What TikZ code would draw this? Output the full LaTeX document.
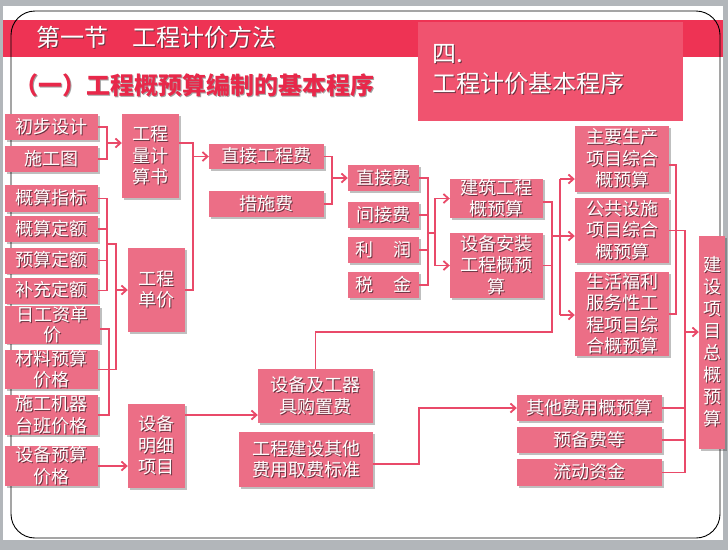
\documentclass[tikz,border=0pt]{standalone}
\usepackage{fontspec}
\setmainfont{Noto Sans CJK SC}
\usetikzlibrary{shadows,arrows.meta}
\definecolor{bgray}{HTML}{B2B6BA}
\definecolor{band}{HTML}{EE3354}
\definecolor{titlebox}{HTML}{F0536F}
\definecolor{nfill}{HTML}{EC6E86}
\definecolor{conn}{HTML}{E94A69}
\definecolor{subred}{HTML}{E8284A}
\definecolor{shc}{HTML}{6A3340}
\definecolor{shg}{HTML}{A0A0A0}
\newcommand\tsh[1]{\leavevmode\rlap{\kern1pt\raisebox{-1pt}{\textcolor{shc}{#1}}}#1}
\newcommand\tshg[1]{\leavevmode\rlap{\kern1.2pt\raisebox{-1.2pt}{\textcolor{shg}{#1}}}#1}
\begin{document}
\begin{tikzpicture}[x=1pt,y=-1pt,
  box/.style={fill=nfill, text=white, inner sep=0pt, align=center,
    font=\fontsize{18}{21.5}\selectfont,
    drop shadow={shadow xshift=1.5pt, shadow yshift=-1.5pt, opacity=0.25, fill=black}},
  line/.style={draw=conn, line width=1.8pt},
  arr/.style={line, -{Straight Barb[length=5pt,width=9pt]}}]
\useasboundingbox (0,0) rectangle (728,550);
\fill[bgray] (0,0) rectangle (728,550);
\fill[white] (3,6) rectangle (723,540);
% header band
\fill[band] (3,20) rectangle (723,57);
\draw[black, line width=0.9pt, rounded corners=24pt] (11,11) rectangle (720,538);
\node[anchor=west, text=white, inner sep=0pt, font=\fontsize{24}{28}\selectfont] (hdr) at (36,38) {\tsh{第一节　工程计价方法}};
\fill[titlebox] (418,22) rectangle (683,121);
\node[anchor=west, text=white, inner sep=0pt, font=\fontsize{24}{28}\selectfont] (t1) at (432,55) {\tsh{四.}};
\node[anchor=west, text=white, inner sep=0pt, font=\fontsize{24}{28}\selectfont] (t2) at (432,84) {\tsh{工程计价基本程序}};
\node[anchor=west, text=subred, inner sep=0pt, font=\bfseries\fontsize{24}{28}\selectfont] (sub) at (14,86) {\tshg{（一）工程概预算编制的基本程序}};

% left column
\node[box, minimum width=93, minimum height=26] (n1) at (51.5,127) {\tsh{初步设计}};
\node[box, minimum width=93, minimum height=26] (n2) at (51.5,159) {\tsh{施工图}};
\node[box, minimum width=93, minimum height=27] (n3) at (51.5,198.5) {\tsh{概算指标}};
\node[box, minimum width=93, minimum height=26] (n4) at (51.5,229) {\tsh{概算定额}};
\node[box, minimum width=93, minimum height=26] (n5) at (51.5,260.5) {\tsh{预算定额}};
\node[box, minimum width=93, minimum height=26] (n6) at (51.5,290.5) {\tsh{补充定额}};
\node[box, minimum width=95, minimum height=36, font=\fontsize{18}{20}\selectfont] (n7) at (52.5,325) {\tsh{日工资单}\\\tsh{价}};
\node[box, minimum width=93, minimum height=39] (n8) at (51.5,369.5) {\tsh{材料预算}\\\tsh{价格}};
\node[box, minimum width=93, minimum height=40] (n9) at (51.5,415) {\tsh{施工机器}\\\tsh{台班价格}};
\node[box, minimum width=93, minimum height=40] (n10) at (51.5,466) {\tsh{设备预算}\\\tsh{价格}};

% second column
\node[box, minimum width=57, minimum height=84] (m1) at (150.5,156) {\tsh{工程}\\\tsh{量计}\\\tsh{算书}};
\node[box, minimum width=57, minimum height=84] (m2) at (156.5,290) {\tsh{工程}\\\tsh{单价}};
\node[box, minimum width=57, minimum height=84] (m3) at (156.5,446) {\tsh{设备}\\\tsh{明细}\\\tsh{项目}};

% third column
\node[box, minimum width=115, minimum height=25] (d1) at (266.5,156.5) {\tsh{直接工程费}};
\node[box, minimum width=115, minimum height=26] (d2) at (266.5,204) {\tsh{措施费}};
\node[box, minimum width=115, minimum height=54] (e1) at (315.5,396) {\tsh{设备及工器}\\\tsh{具购置费}};
\node[box, minimum width=134, minimum height=55] (e2) at (306,459.5) {\tsh{工程建设其他}\\\tsh{费用取费标准}};

% fourth column
\node[box, minimum width=71, minimum height=26] (f1) at (383.5,178) {\tsh{直接费}};
\node[box, minimum width=71, minimum height=26] (f2) at (383.5,215) {\tsh{间接费}};
\node[box, minimum width=71, minimum height=26] (f3) at (383.5,250) {\tsh{利}\hspace{20pt}\tsh{润}};
\node[box, minimum width=71, minimum height=26] (f4) at (383.5,285) {\tsh{税}\hspace{20pt}\tsh{金}};

% fifth column
\node[box, minimum width=93, minimum height=39] (g1) at (496.5,198.5) {\tsh{建筑工程}\\\tsh{概预算}};
\node[box, minimum width=93, minimum height=65] (g2) at (496.5,265.5) {\tsh{设备安装}\\\tsh{工程概预}\\\tsh{算}};

% sixth column
\node[box, minimum width=94, minimum height=66] (h1) at (622,159) {\tsh{主要生产}\\\tsh{项目综合}\\\tsh{概预算}};
\node[box, minimum width=94, minimum height=65] (h2) at (622,230.5) {\tsh{公共设施}\\\tsh{项目综合}\\\tsh{概预算}};
\node[box, minimum width=94, minimum height=84] (h3) at (622,314) {\tsh{生活福利}\\\tsh{服务性工}\\\tsh{程项目综}\\\tsh{合概预算}};

% lower right
\node[box, minimum width=145, minimum height=26] (k1) at (589.5,408) {\tsh{其他费用概预算}};
\node[box, minimum width=145, minimum height=26] (k2) at (589.5,440) {\tsh{预备费等}};
\node[box, minimum width=145, minimum height=27] (k3) at (589.5,472.5) {\tsh{流动资金}};

% final
\node[box, minimum width=26, minimum height=213, font=\fontsize{18}{22}\selectfont] (z) at (712,342.5) {\tsh{建}\\\tsh{设}\\\tsh{项}\\\tsh{目}\\\tsh{总}\\\tsh{概}\\\tsh{预}\\\tsh{算}};

% connectors
\coordinate (a1) at (107,143);
\draw[line] (n1.east) -| (a1) |- (n2.east);
\draw[arr] (a1) -- (a1 -| m1.west);

\coordinate (a2) at (107,244);
\coordinate (a3) at (116,244);
\draw[line] (n3.east) -| (a2) |- (n6.east);
\draw[line] (n4.east) -- (n4.east -| a2);
\draw[line] (n5.east) -- (n5.east -| a2);
\draw[line] (a2) -- (a3) |- (n8.east);
\draw[arr] (a3 |- m2.west) -- (m2.west);

\coordinate (a4) at (109,0);
\draw[line] ([yshift=-4pt]n7.east) -| (a4 |- n9.east) -- (n9.east);
\draw[arr] (n10.east) -- (n10.east -| m3.west);

\coordinate (b1) at (193,143);
\draw[line] (m1.east |- b1) -- (b1) |- (m2.east);
\draw[arr] (b1 |- d1.west) -- (d1.west);

\coordinate (c1) at (332,0);
\draw[line] (d1.east) -| (c1 |- d2.east) -- (d2.east);
\draw[arr] (c1 |- f1.west) -- (f1.west);

\coordinate (c2) at (428,233);
\coordinate (c3) at (435,233);
\draw[line] (f1.east) -| (c2) |- (f4.east);
\draw[line] (f2.east) -- (f2.east -| c2);
\draw[line] (f3.east) -- (f3.east -| c2);
\draw[line] (c2) -- (c3);
\draw[arr] (c3) |- (g1.west);
\draw[arr] (c3) |- (g2.west);

\coordinate (p1) at (552,236);
\coordinate (p3) at (552,332);
\draw[line] ([yshift=-3.5pt]g1.east) -| (p3) -| (e1.north);
\draw[line] (g2.east) -- (g2.east -| p1);
\draw[arr] (p1) -- (p1 -| h2.west);
\coordinate (p4) at (560,179);
\coordinate (p5) at (560,315);
\draw[line] (p4) -- (p5);
\draw[arr] (p4) -- (p4 -| h1.west);
\draw[arr] (p5) -- (p5 -| h3.west);

\coordinate (q1) at (676,0);
\coordinate (q2) at (685,0);
\coordinate (q3) at (685,332);
\draw[line] ([yshift=-6pt]h1.east) -| (q1 |- h3.east) -- (h3.east);
\draw[line] (h2.east) -| (q2 |- k3.east) -- (k3.east);
\draw[line] (k1.east) -- (k1.east -| q2);
\draw[line] (k2.east) -- (k2.east -| q2);
\draw[arr] (q3) -- (q3 -| z.west);

\draw[arr] ([yshift=31pt]m3.east) coordinate (r1) -- (r1 -| e1.west);
\coordinate (s1) at (419,0);
\draw[arr] ([yshift=-4.5pt]e2.east) -| (s1 |- k1.west) -- (k1.west);
\end{tikzpicture}
\end{document}
